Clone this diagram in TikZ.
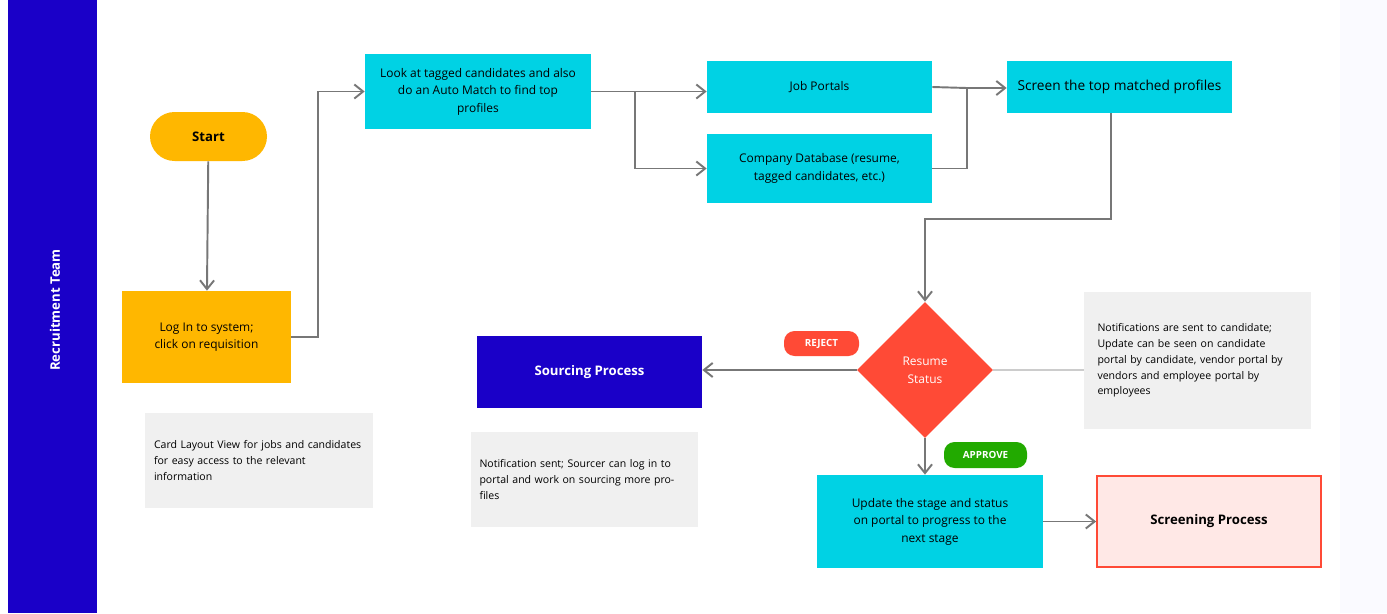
\documentclass[tikz,border=0pt]{standalone}
\usepackage{fontspec}
\setmainfont{Open Sans}
\usetikzlibrary{arrows.meta}
\usetikzlibrary{positioning}
\usetikzlibrary{shapes.geometric}
\definecolor{cyanbox}{HTML}{00D2E4}
\definecolor{orangebox}{HTML}{FFB700}
\definecolor{bluebox}{HTML}{1A00C8}
\definecolor{notegray}{HTML}{F0F0F0}
\definecolor{linegray}{HTML}{777777}
\definecolor{redbox}{HTML}{FF4A36}
\definecolor{greenbox}{HTML}{22AA00}
\definecolor{pinkbox}{HTML}{FFE8E6}
\tikzset{
  box/.style={draw=none, fill=cyanbox, align=center, font=\fontsize{6.8}{10}\selectfont, inner sep=0pt},
  note/.style={fill=notegray, align=left, font=\fontsize{6}{9}\selectfont, inner sep=0pt},
  tag/.style={rounded corners=6pt, text=white, font=\bfseries\fontsize{5.6}{7}\selectfont, inner sep=0pt},
  flow/.style={draw=linegray, line width=1.1pt, -{Straight Barb[length=5pt,width=8pt]}},
}
\begin{document}
\begin{tikzpicture}[x=0.02cm,y=-0.02cm]
    % background
    \useasboundingbox (0,0) rectangle (1387,613);
    \fill[white] (0,0) rectangle (1387,613);
    \fill[blue!2] (1340,0) rectangle (1387,613);
    \fill[bluebox] (8,0) rectangle (97,613);
    \node[rotate=90, text=white, font=\bfseries\fontsize{7.5}{9}\selectfont] (team) at (55,310) {Recruitment Team};

    % nodes
    \node[fill=orangebox, rounded corners=14pt, minimum width=117*0.02cm, minimum height=49*0.02cm, font=\bfseries\fontsize{7.5}{9}\selectfont] (start) at (208.5,136.5) {Start};
    \node[box, fill=orangebox, minimum width=169*0.02cm, minimum height=92*0.02cm] (login) at (206.5,337) {Log In to system;\\click on requisition};
    \node[note, minimum width=228*0.02cm, minimum height=95*0.02cm, text width=210*0.02cm] (cardnote) at (259,460.5) {Card Layout View for jobs and candidates\\for easy access to the relevant\\information\\[22pt]};
    \node[box, minimum width=226*0.02cm, minimum height=75*0.02cm] (look) at (478,91.5) {Look at tagged candidates and also\\do an Auto Match to find top\\profiles};
    \node[box, minimum width=225*0.02cm, minimum height=52*0.02cm] (portals) at (819.5,87) {Job Portals};
    \node[box, minimum width=225*0.02cm, minimum height=69*0.02cm] (database) at (819.5,168.5) {Company Database (resume,\\tagged candidates, etc.)};
    \node[box, minimum width=225*0.02cm, minimum height=52*0.02cm, font=\fontsize{7.8}{10}\selectfont] (screen) at (1119.5,87) {Screen the top matched profiles};
    \node[diamond, fill=redbox, minimum width=136*0.02cm, minimum height=136*0.02cm, inner sep=0pt, text=white, align=center, font=\fontsize{6.8}{10}\selectfont] (status) at (925,370) {Resume\\Status};
    \node[note, minimum width=227*0.02cm, minimum height=137*0.02cm, text width=200*0.02cm] (notifnote) at (1197.5,360.5) {Notifications are sent to candidate;\\Update can be seen on candidate\\portal by candidate, vendor portal by\\vendors and employee portal by\\employees\\[24pt]};
    \node[box, fill=bluebox, text=white, minimum width=225*0.02cm, minimum height=72*0.02cm, font=\bfseries\fontsize{7.5}{9}\selectfont] (sourcing) at (589.5,372) {Sourcing Process};
    \node[note, minimum width=227*0.02cm, minimum height=95*0.02cm, text width=210*0.02cm] (sourcenote) at (584.5,479.5) {Notification sent; Sourcer can log in to\\portal and work on sourcing more profiles\\[30pt]};
    \node[tag, fill=redbox, minimum width=75*0.02cm, minimum height=25*0.02cm] (reject) at (821.5,343.5) {REJECT};
    \node[tag, fill=greenbox, minimum width=83*0.02cm, minimum height=26*0.02cm] (approve) at (985.5,455) {APPROVE};
    \node[box, minimum width=226*0.02cm, minimum height=93*0.02cm] (update) at (930,521.5) {Update the stage and status\\on portal to progress to the\\next stage};
    \node[box, fill=pinkbox, draw=redbox, line width=1pt, minimum width=224*0.02cm, minimum height=91*0.02cm, font=\bfseries\fontsize{7.5}{9}\selectfont] (screening) at (1209,521.5) {Screening Process};

    % connectors
    \coordinate (split) at (635,91.5);
    \coordinate (join) at (967,88);
    \coordinate (drop) at (1111,113);
    \draw[flow] (start) -- (login);
    \draw[flow] (login.east) -- ++(27,0) |- (look.west);
    \draw[flow] (look.east) -- (portals.west |- look.east);
    \draw[flow] (split) |- (database.west);
    \draw[draw=linegray, line width=1.1pt] (portals.east) -- (join);
    \draw[draw=linegray, line width=1.1pt] (database.east) -| (join);
    \draw[flow] (join) -- (screen.west |- join);
    \draw[flow] (drop) |- (925,219) -- (status.north);
    \draw[flow] (status.west) -- (sourcing.east |- status.west);
    \draw[flow] (status.south) -- (update.north -| status.south);
    \draw[flow] (update.east) -- (screening.west);
    \draw[draw=gray!40, line width=1.1pt] (status.east) -- (notifnote.west |- status.east);
\end{tikzpicture}
\end{document}
